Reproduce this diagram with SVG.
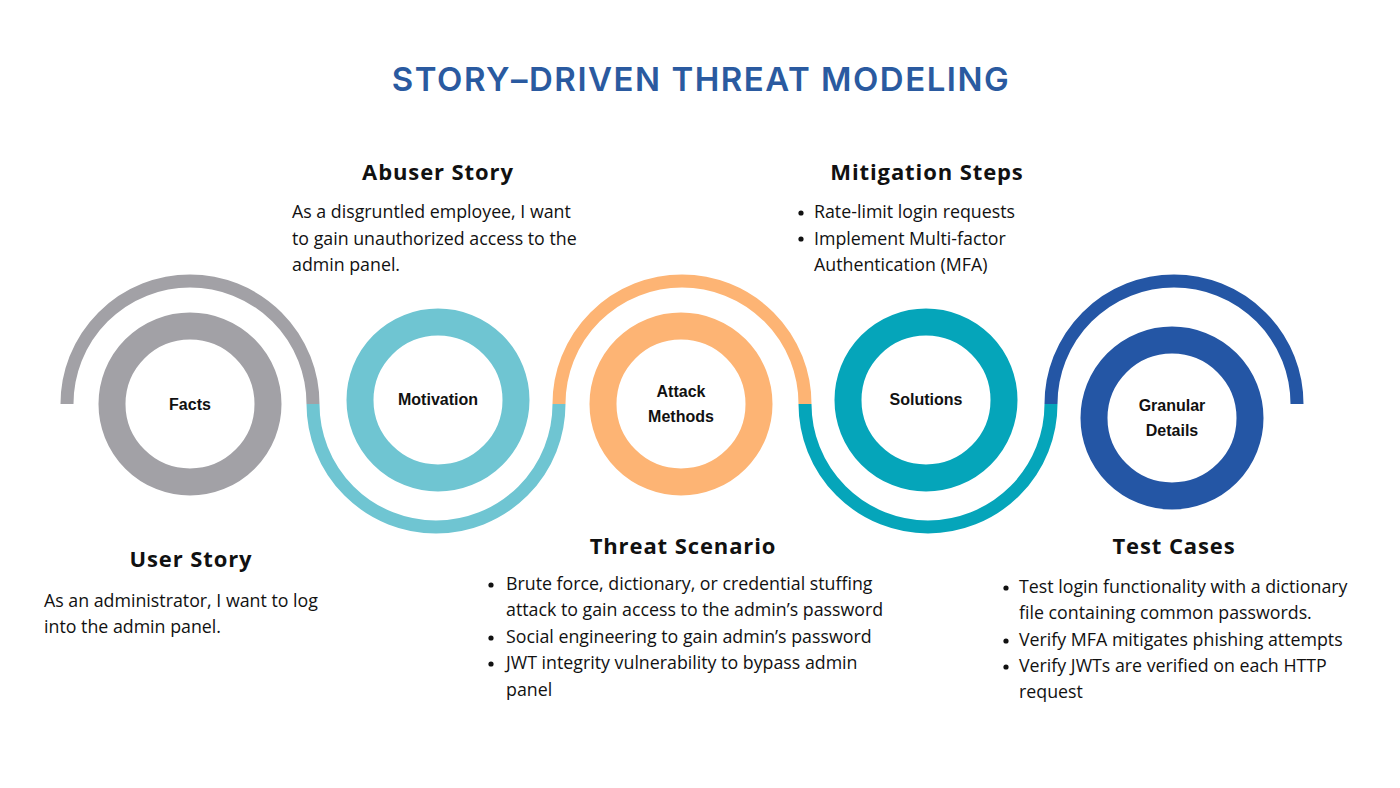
<svg xmlns="http://www.w3.org/2000/svg" width="1400" height="788" viewBox="0 0 1400 788">
<style>
.title{font-family:Inter,"Open Sans",sans-serif;font-weight:600;font-size:33px;fill:#2A5AA0;letter-spacing:1.5px}
.head{font-family:"Open Sans",sans-serif;font-weight:700;font-size:22px;fill:#111;letter-spacing:0.9px}
.body{font-family:"Open Sans",sans-serif;font-size:17.8px;fill:#111}
.lbl{font-family:"Liberation Sans",Arial,sans-serif;font-weight:700;font-size:16px;fill:#111;text-anchor:middle}
.ring{fill:none;stroke-width:27}
.arc{fill:none;stroke-width:13;stroke-linecap:butt}
.dot{fill:#111}
</style>
<rect width="1400" height="788" fill="#fff"/>
<text class="title" x="701" y="91" text-anchor="middle">STORY–DRIVEN THREAT MODELING</text>

<g id="connectors">
<path class="arc" stroke="#A2A1A6" d="M67 404 A123 123 0 0 1 313 404"/>
<path class="arc" stroke="#6FC5D2" d="M313 404 A123 123 0 0 0 559 404"/>
<path class="arc" stroke="#FDB474" d="M559 404 A123 123 0 0 1 805 404"/>
<path class="arc" stroke="#05A5BA" d="M805 404 A123 123 0 0 0 1051 404"/>
<path class="arc" stroke="#2456A5" d="M1051 404 A123 123 0 0 1 1297 404"/>
</g>

<g id="facts">
<circle class="ring" stroke="#A2A1A6" cx="190" cy="404" r="78"/>
<text class="lbl" x="190" y="410">Facts</text>
</g>
<g id="motivation">
<circle class="ring" stroke="#6FC5D2" cx="438" cy="400" r="78"/>
<text class="lbl" x="438" y="405">Motivation</text>
</g>
<g id="attack-methods">
<circle class="ring" stroke="#FDB474" cx="681" cy="404" r="78"/>
<text class="lbl" x="681" y="397">Attack</text>
<text class="lbl" x="681" y="422">Methods</text>
</g>
<g id="solutions">
<circle class="ring" stroke="#05A5BA" cx="926" cy="400" r="78"/>
<text class="lbl" x="926" y="405">Solutions</text>
</g>
<g id="granular-details">
<circle class="ring" stroke="#2456A5" cx="1172" cy="418" r="78"/>
<text class="lbl" x="1172" y="411">Granular</text>
<text class="lbl" x="1172" y="436">Details</text>
</g>

<g id="abuser-story">
<text class="head" x="438" y="180" text-anchor="middle">Abuser Story</text>
<text class="body" x="292" y="218">As a disgruntled employee, I want</text>
<text class="body" x="292" y="245">to gain unauthorized access to the</text>
<text class="body" x="292" y="271">admin panel.</text>
</g>

<g id="mitigation-steps">
<text class="head" x="927" y="180" text-anchor="middle">Mitigation Steps</text>
<circle class="dot" cx="801" cy="213" r="2.6"/>
<text class="body" x="814" y="218">Rate-limit login requests</text>
<circle class="dot" cx="801" cy="239" r="2.6"/>
<text class="body" x="814" y="245">Implement Multi-factor</text>
<text class="body" x="814" y="271">Authentication (MFA)</text>
</g>

<g id="user-story">
<text class="head" x="191" y="567" text-anchor="middle">User Story</text>
<text class="body" x="44" y="607">As an administrator, I want to log</text>
<text class="body" x="44" y="633">into the admin panel.</text>
</g>

<g id="threat-scenario">
<text class="head" x="683" y="554" text-anchor="middle">Threat Scenario</text>
<circle class="dot" cx="491" cy="585" r="2.6"/>
<text class="body" x="506" y="590">Brute force, dictionary, or credential stuffing</text>
<text class="body" x="506" y="616">attack to gain access to the admin’s password</text>
<circle class="dot" cx="491" cy="638" r="2.6"/>
<text class="body" x="506" y="643">Social engineering to gain admin’s password</text>
<circle class="dot" cx="491" cy="664" r="2.6"/>
<text class="body" x="506" y="669">JWT integrity vulnerability to bypass admin</text>
<text class="body" x="506" y="696">panel</text>
</g>

<g id="test-cases">
<text class="head" x="1174" y="554" text-anchor="middle">Test Cases</text>
<circle class="dot" cx="1006" cy="588" r="2.6"/>
<text class="body" x="1019" y="593">Test login functionality with a dictionary</text>
<text class="body" x="1019" y="619">file containing common passwords.</text>
<circle class="dot" cx="1006" cy="641" r="2.6"/>
<text class="body" x="1019" y="646">Verify MFA mitigates phishing attempts</text>
<circle class="dot" cx="1006" cy="667" r="2.6"/>
<text class="body" x="1019" y="672">Verify JWTs are verified on each HTTP</text>
<text class="body" x="1019" y="698">request</text>
</g>
</svg>
